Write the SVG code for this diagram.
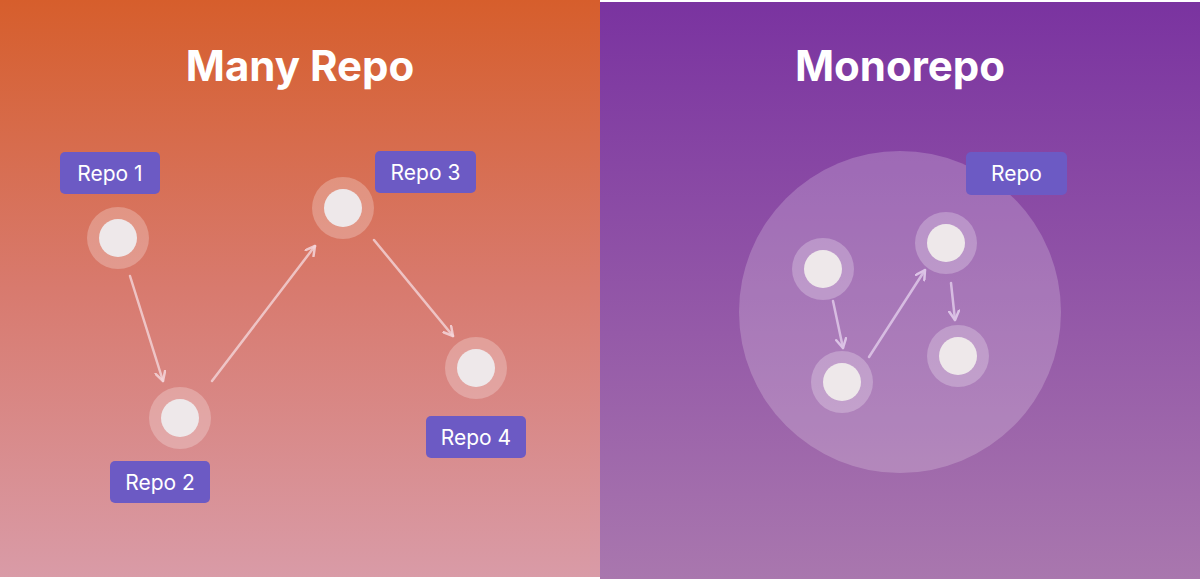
<svg xmlns="http://www.w3.org/2000/svg" width="1200" height="579" viewBox="0 0 1200 579">
<defs>
<linearGradient id="gl" x1="0" y1="0" x2="0" y2="1">
<stop offset="0" stop-color="#D65E2C"/>
<stop offset="0.5" stop-color="#D87A6E"/>
<stop offset="1" stop-color="#D99BA7"/>
</linearGradient>
<linearGradient id="gr" x1="0" y1="0" x2="0" y2="1">
<stop offset="0" stop-color="#7A33A0"/>
<stop offset="1" stop-color="#A977AE"/>
</linearGradient>
<marker id="ah" viewBox="0 0 12 12" refX="10" refY="6" markerWidth="12" markerHeight="12" markerUnits="userSpaceOnUse" orient="auto">
<path d="M1,1 L10,6 L1,11" fill="none" stroke="#F4D6DA" stroke-opacity="0.85" stroke-width="2.5" stroke-linecap="round" stroke-linejoin="round"/>
</marker>
<marker id="ahr" viewBox="0 0 12 12" refX="10" refY="6" markerWidth="12" markerHeight="12" markerUnits="userSpaceOnUse" orient="auto">
<path d="M1,1 L10,6 L1,11" fill="none" stroke="#DCC3E6" stroke-width="2.5" stroke-linecap="round" stroke-linejoin="round"/>
</marker>
</defs>
<style>
.title{font-family:Inter,"Liberation Sans",sans-serif;font-weight:700;font-size:42px;fill:#FFFFFF;text-anchor:middle}
.lab{fill:#6C5AC4}
.labt{font-family:Inter,"Liberation Sans",sans-serif;font-size:21px;fill:#FFFFFF;text-anchor:middle}
.ring{fill:#FFFFFF;fill-opacity:0.25}
.dot{fill:#EEE8EA}
.conn{stroke:#F4D6DA;stroke-opacity:0.8;stroke-width:2.5;fill:none;stroke-linecap:round}
.connr{stroke:#DCC3E6;stroke-opacity:0.9;stroke-width:2.5;fill:none;stroke-linecap:round}
</style>
<rect x="0" y="0" width="1200" height="579" fill="#FFFFFF"/>
<rect x="0" y="0" width="600" height="577" fill="url(#gl)"/>
<rect x="600" y="2" width="600" height="577" fill="url(#gr)"/>
<text class="title" x="300" y="81">Many Repo</text>
<text class="title" x="900" y="81">Monorepo</text>
<circle cx="900" cy="312" r="161" fill="#FFFFFF" fill-opacity="0.2"/>
<g id="connectors">
<line class="conn" x1="130" y1="276" x2="163" y2="381" marker-end="url(#ah)"/>
<line class="conn" x1="212" y1="381" x2="315" y2="246" marker-end="url(#ah)"/>
<line class="conn" x1="374" y1="240" x2="453" y2="336" marker-end="url(#ah)"/>
<line class="connr" x1="833" y1="301" x2="843" y2="348" marker-end="url(#ahr)"/>
<line class="connr" x1="869" y1="357" x2="925" y2="270" marker-end="url(#ahr)"/>
<line class="connr" x1="951" y1="283" x2="955" y2="320" marker-end="url(#ahr)"/>
</g>
<g id="repo1">
<rect class="lab" x="60" y="152" width="100" height="42" rx="5"/>
<text class="labt" x="110" y="181">Repo 1</text>
<circle class="ring" cx="118" cy="238" r="31"/>
<circle class="dot" cx="118" cy="238" r="19"/>
</g>
<g id="repo2">
<circle class="ring" cx="180" cy="418" r="31"/>
<circle class="dot" cx="180" cy="418" r="19"/>
<rect class="lab" x="110" y="461" width="100" height="42" rx="5"/>
<text class="labt" x="160" y="490">Repo 2</text>
</g>
<g id="repo3">
<circle class="ring" cx="343" cy="208" r="31"/>
<circle class="dot" cx="343" cy="208" r="19"/>
<rect class="lab" x="375" y="151" width="101" height="42" rx="5"/>
<text class="labt" x="425.5" y="180">Repo 3</text>
</g>
<g id="repo4">
<circle class="ring" cx="476" cy="368" r="31"/>
<circle class="dot" cx="476" cy="368" r="19"/>
<rect class="lab" x="426" y="416" width="100" height="42" rx="5"/>
<text class="labt" x="476" y="445">Repo 4</text>
</g>
<g id="monorepo-label">
<rect class="lab" x="966" y="152" width="101" height="43" rx="5"/>
<text class="labt" x="1016.5" y="181">Repo</text>
</g>
<g id="mnodeA">
<circle class="ring" cx="823" cy="269" r="31"/>
<circle class="dot" cx="823" cy="269" r="19"/>
</g>
<g id="mnodeB">
<circle class="ring" cx="946" cy="243" r="31"/>
<circle class="dot" cx="946" cy="243" r="19"/>
</g>
<g id="mnodeC">
<circle class="ring" cx="842" cy="382" r="31"/>
<circle class="dot" cx="842" cy="382" r="19"/>
</g>
<g id="mnodeD">
<circle class="ring" cx="958" cy="356" r="31"/>
<circle class="dot" cx="958" cy="356" r="19"/>
</g>
</svg>
